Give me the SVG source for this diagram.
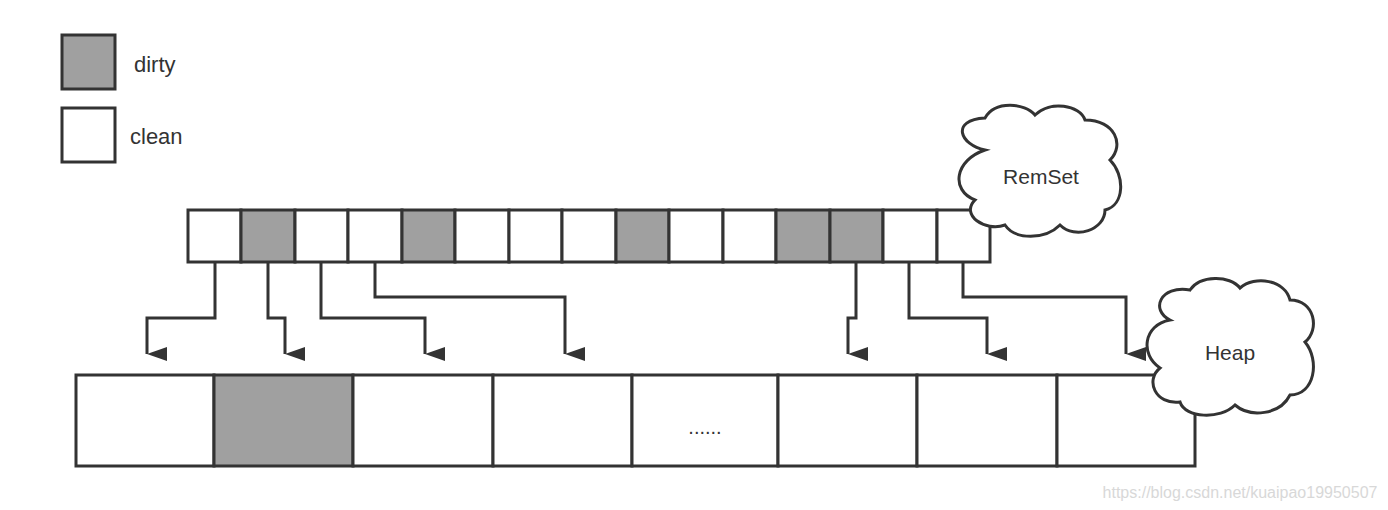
<svg xmlns="http://www.w3.org/2000/svg" width="1388" height="510" viewBox="0 0 1388 510">
<defs>
<style>
.c{stroke:#333;stroke-width:3;fill:#fff}
.d{stroke:#333;stroke-width:3;fill:#a0a0a0}
.l{stroke:#333;stroke-width:3;fill:none}
.cl{stroke:#333;stroke-width:3;fill:#fff}
text{font-family:"Liberation Sans",Arial,sans-serif;fill:#333}
</style>
<marker id="a" viewBox="0 0 14 20" refX="7" refY="20" markerWidth="14" markerHeight="20" markerUnits="userSpaceOnUse" orient="auto-start-reverse">
<path d="M0,0 L14,0 L7,20 Z" fill="#333" transform="rotate(0)"/>
</marker>
</defs>
<rect width="1388" height="510" fill="#fff"/>
<g id="legend">
<rect class="d" x="62" y="35" width="53" height="54"/>
<text x="134" y="72" font-size="22">dirty</text>
<rect class="c" x="62" y="108" width="53" height="54"/>
<text x="130" y="144" font-size="22">clean</text>
</g>
<g id="remset-bar">
<rect class="c" x="188" y="210" width="53" height="52"/>
<rect class="d" x="241" y="210" width="54" height="52"/>
<rect class="c" x="295" y="210" width="53" height="52"/>
<rect class="c" x="348" y="210" width="54" height="52"/>
<rect class="d" x="402" y="210" width="53" height="52"/>
<rect class="c" x="455" y="210" width="54" height="52"/>
<rect class="c" x="509" y="210" width="53" height="52"/>
<rect class="c" x="562" y="210" width="54" height="52"/>
<rect class="d" x="616" y="210" width="53" height="52"/>
<rect class="c" x="669" y="210" width="54" height="52"/>
<rect class="c" x="723" y="210" width="53" height="52"/>
<rect class="d" x="776" y="210" width="54" height="52"/>
<rect class="d" x="830" y="210" width="53" height="52"/>
<rect class="c" x="883" y="210" width="54" height="52"/>
<rect class="c" x="937" y="210" width="53" height="52"/>
</g>
<g id="heap-bar">
<rect class="c" x="76" y="375" width="138" height="91"/>
<rect class="d" x="214" y="375" width="139" height="91"/>
<rect class="c" x="353" y="375" width="140" height="91"/>
<rect class="c" x="493" y="375" width="139" height="91"/>
<rect class="c" x="632" y="375" width="146" height="91"/>
<rect class="c" x="778" y="375" width="139" height="91"/>
<rect class="c" x="917" y="375" width="140" height="91"/>
<rect class="c" x="1057" y="375" width="138" height="91"/>
<text x="705" y="434" font-size="20" text-anchor="middle">......</text>
</g>
<g id="connectors">
<path class="l" d="M215,262 V318 H147 V354" marker-end="url(#a)"/>
<path class="l" d="M268,262 V318 H285 V354" marker-end="url(#a)"/>
<path class="l" d="M321,262 V318 H425 V354" marker-end="url(#a)"/>
<path class="l" d="M375,262 V297 H565 V354" marker-end="url(#a)"/>
<path class="l" d="M856,262 V318 H848 V354" marker-end="url(#a)"/>
<path class="l" d="M909,262 V318 H987 V354" marker-end="url(#a)"/>
<path class="l" d="M963,262 V297 H1126 V354" marker-end="url(#a)"/>
</g>
<g id="remset">
<path class="cl" d="M985,150 C960,145 950,120 985,118 C995,100 1025,103 1035,115 C1050,100 1080,105 1085,120 C1115,120 1125,145 1110,160 C1125,175 1125,205 1105,210 C1105,230 1075,240 1060,225 C1045,240 1015,240 1005,225 C985,232 960,215 975,200 C950,190 955,160 985,150 Z"/>
<text x="1041" y="184" font-size="21" text-anchor="middle">RemSet</text>
</g>
<g id="heap">
<path class="cl" d="M1170,320 C1150,310 1160,285 1190,290 C1200,275 1230,275 1240,288 C1255,275 1285,280 1290,300 C1315,300 1320,330 1305,342 C1320,360 1315,395 1290,395 C1280,415 1250,418 1235,405 C1220,420 1185,418 1180,402 C1155,405 1145,380 1160,368 C1140,355 1143,325 1170,320 Z"/>
<text x="1230" y="360" font-size="21" text-anchor="middle">Heap</text>
</g>
<text x="1240" y="498" font-size="16" text-anchor="middle" style="fill:#d8d8d8">https://blog.csdn.net/kuaipao19950507</text>
</svg>
